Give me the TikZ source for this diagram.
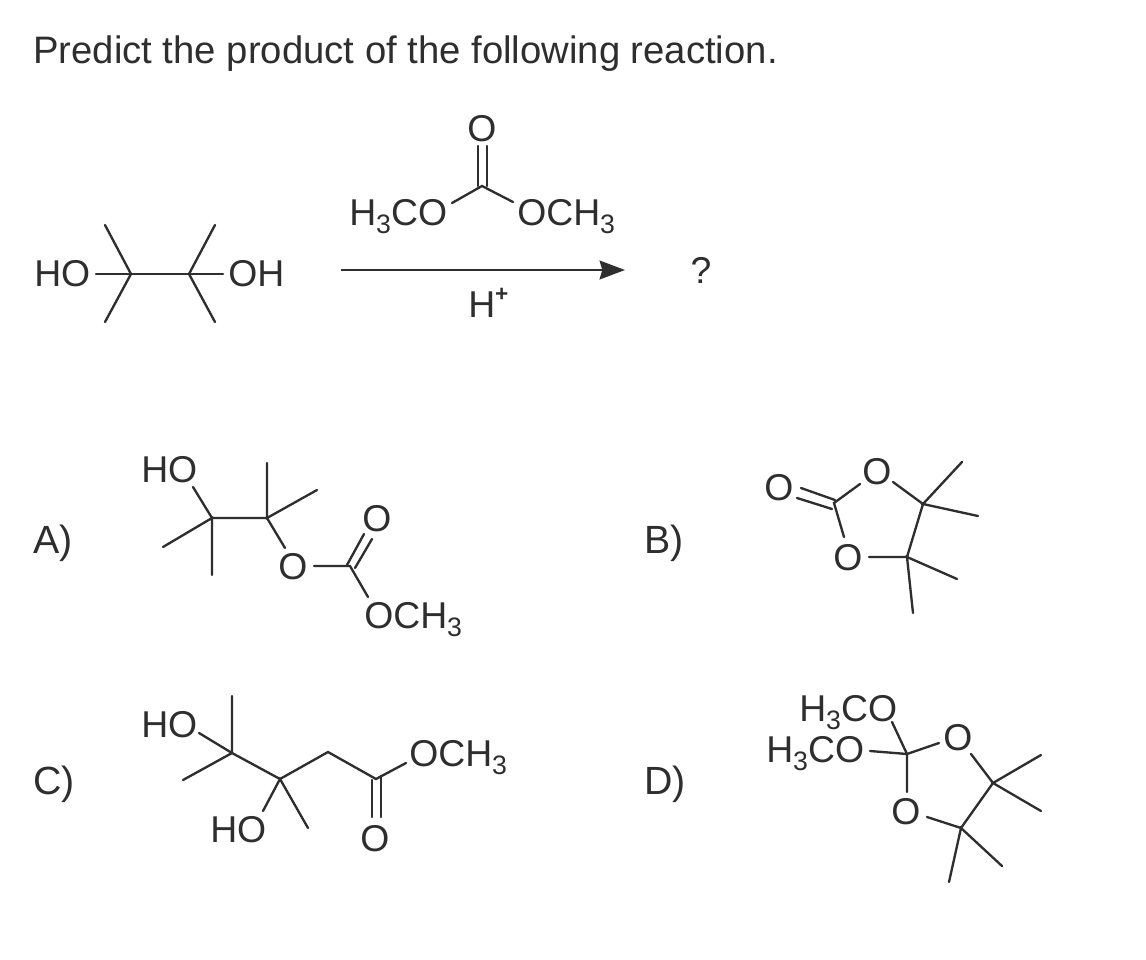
\documentclass[tikz,border=0pt]{standalone}
\usepackage{fontspec}
\setmainfont{Liberation Sans}
\usetikzlibrary{arrows.meta}
\definecolor{ink}{HTML}{2E2E2E}
\newcommand{\subn}[1]{\raisebox{-0.22em}{\fontsize{20}{20}\selectfont #1}}
\newcommand{\supn}[1]{\raisebox{0.42em}{\fontsize{17}{17}\selectfont\bfseries #1}}
\tikzset{
  bond/.style={draw=ink,line width=1.75pt,line cap=round},
  atomw/.style={anchor=base west,inner sep=0pt,text=ink,font=\fontsize{28}{28}\selectfont},
  atomc/.style={anchor=base,inner sep=0pt,text=ink,font=\fontsize{28}{28}\selectfont},
  headline/.style={anchor=base west,inner sep=0pt,text=ink,font=\fontsize{28.7}{28.7}\selectfont},
  optlabel/.style={anchor=base west,inner sep=0pt,text=ink,font=\fontsize{29.5}{29.5}\selectfont},
  rxnarrow/.style={draw=ink,line width=2.1pt,-{Stealth[length=19pt,width=14pt,inset=2pt]}}
}
\begin{document}
\begin{tikzpicture}[x=0.75pt,y=-0.75pt]
\useasboundingbox (0,0) rectangle (1146,960);
\fill[white] (0,0) rectangle (1146,960);
% title
\node[headline] (title) at (33,63) {Predict the product of the following reaction.};
% diol
\node[atomw] (dHO) at (34,286) {HO};
\node[atomw] (dOH) at (228,286) {OH};
\coordinate (d1) at (131,274); \coordinate (d2) at (189,274);
\coordinate (dHOe) at (96,274); \coordinate (dOHe) at (223,274);
\coordinate (dm1) at (105,225); \coordinate (dm2) at (105,322);
\coordinate (dm3) at (215,225); \coordinate (dm4) at (215,322);
\draw[bond] (dHOe) -- (d1) -- (d2) -- (dOHe);
\draw[bond] (dm1) -- (d1) -- (dm2);
\draw[bond] (dm3) -- (d2) -- (dm4);
% dimethyl carbonate
\node[atomc] (rO) at (482,141) {O};
\node[atomw] (rL) at (349,225) {H\subn{3}CO};
\node[atomw] (rR) at (517,225) {OCH\subn{3}};
\coordinate (rC) at (482,186); \coordinate (rLe) at (452,203); \coordinate (rRe) at (513,202);
\coordinate (rCa) at (478,186); \coordinate (rCb) at (487,186);
\coordinate (rOa) at (478,146); \coordinate (rOb) at (487,146);
\draw[bond] (rLe) -- (rC) -- (rRe);
\draw[bond] (rCa) -- (rOa);
\draw[bond] (rCb) -- (rOb);
% arrow
\coordinate (arrS) at (341,270); \coordinate (arrE) at (625,270);
\draw[rxnarrow] (arrS) -- (arrE);
\node[atomw] (hplus) at (468,317) {H\supn{+}};
\node[atomc] (qm) at (701,283) {?};
% labels
\node[optlabel] (lA) at (33,553) {A)};
\node[optlabel] (lB) at (644,553) {B)};
\node[optlabel] (lC) at (33,794) {C)};
\node[optlabel] (lD) at (644,794) {D)};
% A
\node[atomw] (aHO) at (141,482) {HO};
\node[atomc] (aO) at (293,579) {O};
\node[atomc] (aO2) at (377,531) {O};
\node[atomw] (aOM) at (364,628) {OCH\subn{3}};
\coordinate (a1) at (212,518); \coordinate (a2) at (267,518);
\coordinate (aHOe) at (193,487); \coordinate (am1) at (163,547); \coordinate (am2) at (212,575);
\coordinate (am3) at (267,463); \coordinate (am4) at (317,490);
\coordinate (aOe) at (285,548); \coordinate (aOf) at (314,566); \coordinate (aC) at (350,566);
\coordinate (aD1) at (347,565); \coordinate (aD2) at (364,534);
\coordinate (aD3) at (355,568); \coordinate (aD4) at (372,539);
\coordinate (aMe) at (368,597);
\draw[bond] (aHOe) -- (a1) -- (a2) -- (aOe);
\draw[bond] (am1) -- (a1) -- (am2);
\draw[bond] (am3) -- (a2) -- (am4);
\draw[bond] (aOf) -- (aC) -- (aMe);
\draw[bond] (aD1) -- (aD2);
\draw[bond] (aD3) -- (aD4);
% C
\node[atomw] (cHO) at (141,737) {HO};
\node[atomw] (cHO2) at (210,842) {HO};
\node[atomw] (cOM) at (409,766) {OCH\subn{3}};
\node[atomc] (cO) at (375,851) {O};
\coordinate (c1) at (232,753); \coordinate (c2) at (280,779); \coordinate (c3) at (328,752); \coordinate (c4) at (376,779);
\coordinate (cHOe) at (199,733); \coordinate (cm1) at (232,696); \coordinate (cm2) at (183,780);
\coordinate (cHO2e) at (263,811); \coordinate (cm3) at (308,828); \coordinate (cMe) at (406,763);
\coordinate (cD1) at (372,780); \coordinate (cD2) at (372,817);
\coordinate (cD3) at (381,776); \coordinate (cD4) at (381,817);
\draw[bond] (cHOe) -- (c1) -- (c2) -- (c3) -- (c4) -- (cMe);
\draw[bond] (cm1) -- (c1) -- (cm2);
\draw[bond] (cHO2e) -- (c2) -- (cm3);
\draw[bond] (cD1) -- (cD2);
\draw[bond] (cD3) -- (cD4);
% B
\node[atomc] (bO) at (779,500) {O};
\node[atomc] (bO1) at (877,484) {O};
\node[atomc] (bO2) at (848,570) {O};
\coordinate (bC) at (834,503); \coordinate (b1) at (923,504); \coordinate (b2) at (907,557);
\coordinate (bO1a) at (860,484); \coordinate (bO1b) at (893,482);
\coordinate (bO2a) at (844,537); \coordinate (bO2b) at (869,557);
\coordinate (bm1) at (962,462); \coordinate (bm2) at (978,516);
\coordinate (bm3) at (957,579); \coordinate (bm4) at (913,613);
\coordinate (bD1) at (801,488); \coordinate (bD2) at (835,500);
\coordinate (bD3) at (797,498); \coordinate (bD4) at (832,509);
\draw[bond] (bO1a) -- (bC) -- (bO2a);
\draw[bond] (bO1b) -- (b1) -- (b2) -- (bO2b);
\draw[bond] (bm1) -- (b1) -- (bm2);
\draw[bond] (bm3) -- (b2) -- (bm4);
\draw[bond] (bD1) -- (bD2);
\draw[bond] (bD3) -- (bD4);
% D
\node[atomw] (eM1) at (799,721) {H\subn{3}CO};
\node[atomw] (eM2) at (766,762) {H\subn{3}CO};
\node[atomc] (eO1) at (958,750) {O};
\node[atomc] (eO2) at (906,824) {O};
\coordinate (eC) at (907,754); \coordinate (e1) at (993,783); \coordinate (e2) at (961,828);
\coordinate (eM1e) at (892,722); \coordinate (eM2e) at (870,751);
\coordinate (eO1a) at (939,743); \coordinate (eO1b) at (971,754);
\coordinate (eO2a) at (907,792); \coordinate (eO2b) at (927,817);
\coordinate (em1) at (1041,755); \coordinate (em2) at (1041,811);
\coordinate (em3) at (1002,866); \coordinate (em4) at (949,882);
\draw[bond] (eM1e) -- (eC) -- (eO2a);
\draw[bond] (eM2e) -- (eC) -- (eO1a);
\draw[bond] (eO1b) -- (e1) -- (e2) -- (eO2b);
\draw[bond] (em1) -- (e1) -- (em2);
\draw[bond] (em3) -- (e2) -- (em4);
\end{tikzpicture}
\end{document}
